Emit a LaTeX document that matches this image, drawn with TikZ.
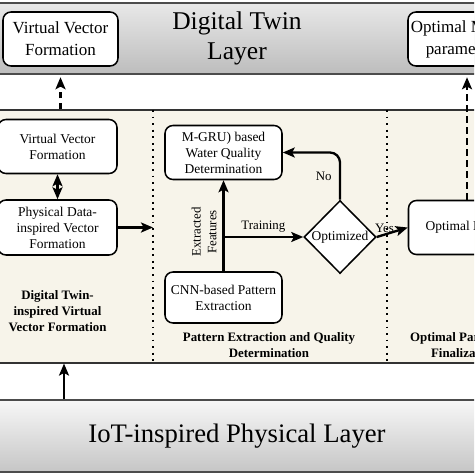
\documentclass[tikz,border=0pt]{standalone}
\usepackage{fontspec}
\setmainfont{Liberation Serif}
\usetikzlibrary{arrows.meta,positioning,shapes.geometric}
\definecolor{beige}{RGB}{247,244,234}

\begin{document}
\begin{tikzpicture}[x=0.3mm,y=-0.3mm,>={Stealth[length=3.6mm,width=3mm,inset=0.8mm]},box/.style={draw,rounded corners=2.4mm,line width=1.3pt,fill=white,align=center,inner sep=1pt,minimum width=35.1mm,minimum height=16.2mm,font=\fontsize{11.5}{13.7}\selectfont},topbox/.style={box,minimum width=34.5mm,font=\fontsize{14.5}{18.8}\selectfont},band/.style={draw=gray!60!black,line width=1pt,minimum width=146mm,inner sep=0pt,align=center},lbl/.style={align=center,font=\fontsize{11}{13.6}\selectfont\bfseries},txt/.style={font=\fontsize{11}{13.4}\selectfont},flow/.style={->,line width=2pt},sep/.style={line width=1.6pt,dash pattern=on 1.6pt off 4pt}]
\clip (0,0) rectangle (474,474);
\node[band,minimum height=21.3mm,top color=gray!18,bottom color=gray!52,font=\fontsize{21.8}{25.6}\selectfont] (dtl) at (237,38.5) {Digital Twin\\Layer};
\node[band,minimum height=75.9mm,fill=beige,draw=black!80] (mid) at (237,236.5) {};
\node[band,minimum height=21.6mm,top color=gray!6,bottom color=gray!45,font=\fontsize{22.8}{26}\selectfont] (iot) at (237,436) {IoT-inspired Physical Layer};
\node[topbox] (tvv) at (60.5,39) {Virtual Vector\\Formation};
\node[topbox,minimum width=33mm] (top) at (463,39) {Optimal Model\\parameters};
\coordinate (s1) at (153,110);
\coordinate (s2) at (387,110);
\draw[sep] (s1) -- (s1 |- mid.south);
\draw[sep] (s2) -- (s2 |- mid.south);
\node[box,minimum width=35.7mm] (vvf) at (57.5,146.5) {Virtual Vector\\Formation};
\node[box,minimum width=35.7mm,minimum height=16.5mm] (pdv) at (57.5,227.5) {Physical Data-\\inspired Vector\\Formation};
\node[box] (mgru) at (223.5,152.5) {M-GRU) based\\Water Quality\\Determination};
\node[box,minimum height=15.3mm] (cnn) at (223.5,297.5) {CNN-based Pattern\\Extraction};
\node[diamond,draw,fill=white,line width=1.3pt,inner sep=0pt,minimum width=21.6mm,minimum height=21.9mm,font=\fontsize{11.5}{13.7}\selectfont] (opt) at (340,237) {Optimized};
\node[box] (omp) at (467,227.5) {Optimal Model};
\node[lbl] (l1) at (57.5,311) {Digital Twin-\\inspired Virtual\\Vector Formation};
\node[lbl] (l2) at (269,345) {Pattern Extraction and Quality\\Determination};
\node[lbl] (l3) at (464,345) {Optimal Parameter\\Finalization};
\node[txt,rotate=90,align=center] (ef) at (204,232) {Extracted\\Features};
\coordinate (jn) at (cnn.north |- opt.west);
\coordinate (ba) at (64,0);
\draw[<->,line width=2pt] (vvf) -- (pdv);
\draw[flow] (pdv.east) -- (pdv.east -| s1);
\draw[flow] (cnn) -- (mgru);
\draw[flow] (jn) -- node[txt,above] {Training} (opt.west);
\draw[flow,rounded corners=3mm] (opt.north) |- node[txt,pos=0.25,left,xshift=-1mm] {No} (mgru.east);
\draw[flow] (opt.east) -- node[txt,above,pos=0.25,inner sep=1pt] {Yes} (omp.west);
\draw[flow,dash pattern=on 2mm off 1.3mm,shorten >=0.8mm] (mid.north -| tvv) -- (dtl.south -| tvv);
\draw[flow,dash pattern=on 2mm off 1.3mm,shorten >=0.8mm] (omp.north) -- (omp.north |- dtl.south);
\draw[flow] (iot.north -| ba) -- (mid.south -| ba);
\end{tikzpicture}
\end{document}
